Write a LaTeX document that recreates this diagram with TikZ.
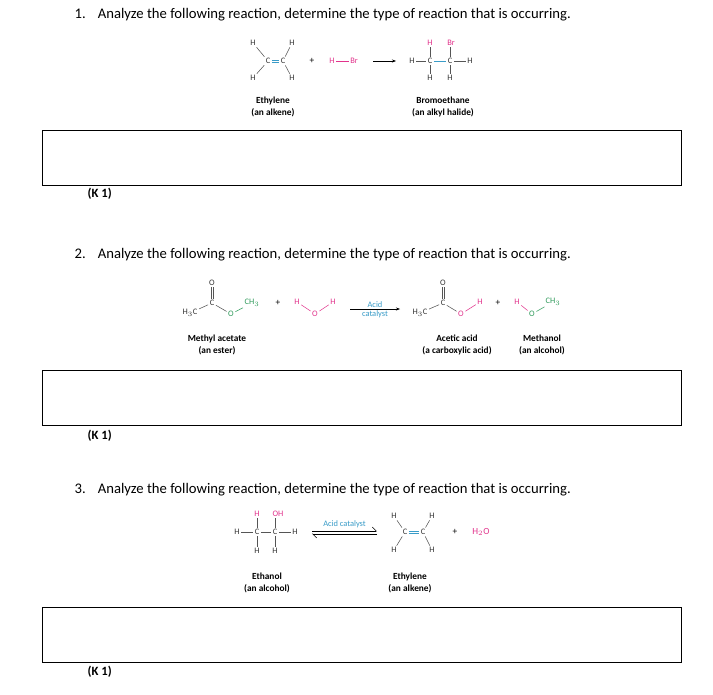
\documentclass[tikz,border=0pt]{standalone}
\usepackage{fontspec}
\setmainfont{Carlito}
\usetikzlibrary{positioning,arrows.meta,calc}
\definecolor{pinkH}{HTML}{E2338C}
\definecolor{blueB}{HTML}{3A9CC8}
\definecolor{greenM}{HTML}{2E9A5A}
\definecolor{bondgray}{HTML}{555555}
\begin{document}
\begin{tikzpicture}[x=0.75pt,y=-0.75pt,
    question/.style={anchor=west, font=\fontsize{11}{13}\selectfont},
    answerbox/.style={draw, line width=0.6pt},
    kmark/.style={anchor=west, font=\bfseries\fontsize{9.5}{11}\selectfont},
    atom/.style={inner sep=0.6pt, font=\fontsize{6.3}{7}\selectfont, text=black!80},
    pinkatom/.style={atom, text=pinkH},
    greenatom/.style={atom, text=greenM},
    bond/.style={draw=bondgray, line width=0.4pt, shorten <=0.5pt, shorten >=0.5pt},
    cbond/.style={draw=blueB, line width=0.4pt, shorten <=0.5pt, shorten >=0.5pt},
    molname/.style={align=center, font=\bfseries\fontsize{7}{8.6}\selectfont},
    plus/.style={font=\fontsize{7}{8}\selectfont},
    catlabel/.style={font=\fontsize{6.3}{7}\selectfont, text=blueB, inner sep=1pt},
]
\useasboundingbox (0,0) rectangle (713,695);
\fill[white] (0,0) rectangle (713,695);

% question 1
\node[question] (qone) at (70,15) {1.\hspace{9pt}Analyze the following reaction, determine the type of reaction that is occurring.};
\node[atom] (ec1) at (268,61) {C};
\node[atom] (ec2) at (283,61) {C};
\node[atom] (eh1) at (253,43) {H};
\node[atom] (eh2) at (292,43) {H};
\node[atom] (eh3) at (253,78) {H};
\node[atom] (eh4) at (292,78) {H};
\draw[cbond] ([yshift=0.8pt]ec1.east) -- ([yshift=0.8pt]ec2.west);
\draw[cbond] ([yshift=-0.8pt]ec1.east) -- ([yshift=-0.8pt]ec2.west);
\draw[bond] (ec1) -- (eh1);
\draw[bond] (ec1) -- (eh3);
\draw[bond] (ec2) -- (eh2);
\draw[bond] (ec2) -- (eh4);
\node[plus] (pone) at (312,61) {+};
\node[pinkatom] (hbrh) at (332,61) {H};
\node[pinkatom] (hbrbr) at (354,61) {Br};
\draw[bond, draw=pinkH] (hbrh) -- (hbrbr);
\coordinate (arrowonea) at (373,61);
\coordinate (arrowoneb) at (396,61);
\draw[-{Stealth[length=3pt]}, line width=0.4pt] (arrowonea) -- (arrowoneb);
\node[atom] (bh1) at (412,61) {H};
\node[atom] (bc1) at (430,61) {C};
\node[atom] (bc2) at (450,61) {C};
\node[atom] (bh2) at (470,61) {H};
\node[pinkatom] (bh3) at (430,43) {H};
\node[pinkatom] (bbr) at (451,43) {Br};
\node[atom] (bh4) at (430,78) {H};
\node[atom] (bh5) at (450,78) {H};
\draw[bond] (bh1) -- (bc1);
\draw[cbond] (bc1) -- (bc2);
\draw[bond] (bc2) -- (bh2);
\draw[bond] (bc1) -- (bh3);
\draw[bond] (bc2) -- (bc2 |- bbr.south);
\draw[bond] (bc1) -- (bh4);
\draw[bond] (bc2) -- (bh5);
\node[molname] (ethyleneone) at (273,107) {Ethylene\\(an alkene)};
\node[molname] (bromoethane) at (443,107) {Bromoethane\\(an alkyl halide)};
\draw[answerbox] (42,130) rectangle (681,185);
\node[kmark] (kone) at (83,194) {(K 1)};

% question 2
\node[question] (qtwo) at (70,255) {2.\hspace{9pt}Analyze the following reaction, determine the type of reaction that is occurring.};
\node[atom] (mao) at (212,283) {O};
\node[atom] (mac) at (212,303) {C};
\node[atom] (mach) at (190,313) {H$_3$C};
\node[greenatom] (maoe) at (231,314) {O};
\node[greenatom] (mame) at (252,303) {CH$_3$};
\draw[bond] ([xshift=0.8pt]mac.north) -- ([xshift=0.8pt]mao.south);
\draw[bond] ([xshift=-0.8pt]mac.north) -- ([xshift=-0.8pt]mao.south);
\draw[bond] (mac) -- (mach);
\draw[bond] (mac) -- (maoe);
\draw[bond, draw=greenM] (maoe) -- (mame);
\node[plus] (ptwo) at (278,303) {+};
\node[pinkatom] (wh1) at (297,302) {H};
\node[pinkatom] (wo) at (315,314) {O};
\node[pinkatom] (wh2) at (333,302) {H};
\draw[bond, draw=pinkH] (wh1) -- (wo);
\draw[bond, draw=pinkH] (wo) -- (wh2);
\coordinate (arrowtwoa) at (350,309);
\coordinate (arrowtwob) at (400,309);
\draw[-{Stealth[length=3pt]}, line width=0.4pt] (arrowtwoa) -- (arrowtwob);
\node[catlabel, above=0pt of $(arrowtwoa)!0.5!(arrowtwob)$] (acidtwo) {Acid};
\node[catlabel, below=0pt of $(arrowtwoa)!0.5!(arrowtwob)$] (cattwo) {catalyst};
\node[atom] (aao) at (443,283) {O};
\node[atom] (aac) at (443,303) {C};
\node[atom] (aach) at (420,313) {H$_3$C};
\node[pinkatom] (aaoh) at (461,314) {O};
\node[pinkatom] (aah) at (480,302) {H};
\draw[bond] ([xshift=0.8pt]aac.north) -- ([xshift=0.8pt]aao.south);
\draw[bond] ([xshift=-0.8pt]aac.north) -- ([xshift=-0.8pt]aao.south);
\draw[bond] (aac) -- (aach);
\draw[bond] (aac) -- (aaoh);
\draw[bond, draw=pinkH] (aaoh) -- (aah);
\node[plus] (pthree) at (498,303) {+};
\node[pinkatom] (meh) at (517,302) {H};
\node[greenatom] (meo) at (532,314) {O};
\node[greenatom] (mech) at (553,302) {CH$_3$};
\draw[bond, draw=pinkH] (meh) -- (meo);
\draw[bond, draw=greenM] (meo) -- (mech);
\node[molname] (methylacetate) at (217,345) {Methyl acetate\\(an ester)};
\node[molname] (aceticacid) at (457,345) {Acetic acid\\(a carboxylic acid)};
\node[molname] (methanol) at (542,345) {Methanol\\(an alcohol)};
\draw[answerbox] (42,370) rectangle (681,425);
\node[kmark] (ktwo) at (83,436) {(K 1)};

% question 3
\node[question] (qthree) at (70,490) {3.\hspace{9pt}Analyze the following reaction, determine the type of reaction that is occurring.};
\node[atom] (th1) at (237,532) {H};
\node[atom] (tc1) at (257,532) {C};
\node[atom] (tc2) at (275,532) {C};
\node[atom] (th2) at (295,532) {H};
\node[pinkatom] (th3) at (257,514) {H};
\node[pinkatom] (toh) at (278,514) {OH};
\node[atom] (th4) at (257,551) {H};
\node[atom] (th5) at (275,551) {H};
\draw[bond] (th1) -- (tc1);
\draw[bond] (tc1) -- (tc2);
\draw[bond] (tc2) -- (th2);
\draw[bond] (tc1) -- (th3);
\draw[bond] (tc2) -- (tc2 |- toh.south);
\draw[bond] (tc1) -- (th4);
\draw[bond] (tc2) -- (th5);
\coordinate (eqa) at (312,531);
\coordinate (eqb) at (377,531);
\coordinate (eqc) at (312,534);
\coordinate (eqd) at (377,534);
\draw[-{Straight Barb[harpoon,length=3pt]}, line width=0.4pt] (eqa) -- (eqb);
\draw[-{Straight Barb[harpoon,length=3pt]}, line width=0.4pt] (eqd) -- (eqc);
\node[catlabel, above=1pt of $(eqa)!0.5!(eqb)$] (catthree) {Acid catalyst};
\node[atom] (yc1) at (405,532) {C};
\node[atom] (yc2) at (423,532) {C};
\node[atom] (yh1) at (394,516) {H};
\node[atom] (yh2) at (432,516) {H};
\node[atom] (yh3) at (394,550) {H};
\node[atom] (yh4) at (432,550) {H};
\draw[cbond] ([yshift=0.8pt]yc1.east) -- ([yshift=0.8pt]yc2.west);
\draw[cbond] ([yshift=-0.8pt]yc1.east) -- ([yshift=-0.8pt]yc2.west);
\draw[bond] (yc1) -- (yh1);
\draw[bond] (yc1) -- (yh3);
\draw[bond] (yc2) -- (yh2);
\draw[bond] (yc2) -- (yh4);
\node[plus] (pfour) at (455,532) {+};
\node[pinkatom, font=\fontsize{7}{8}\selectfont] (water) at (481,532) {H$_2$O};
\node[molname] (ethanol) at (267,583) {Ethanol\\(an alcohol)};
\node[molname] (ethylenetwo) at (410,583) {Ethylene\\(an alkene)};
\draw[answerbox] (42,607) rectangle (681,662);
\node[kmark] (kthree) at (83,672) {(K 1)};
\end{tikzpicture}
\end{document}
